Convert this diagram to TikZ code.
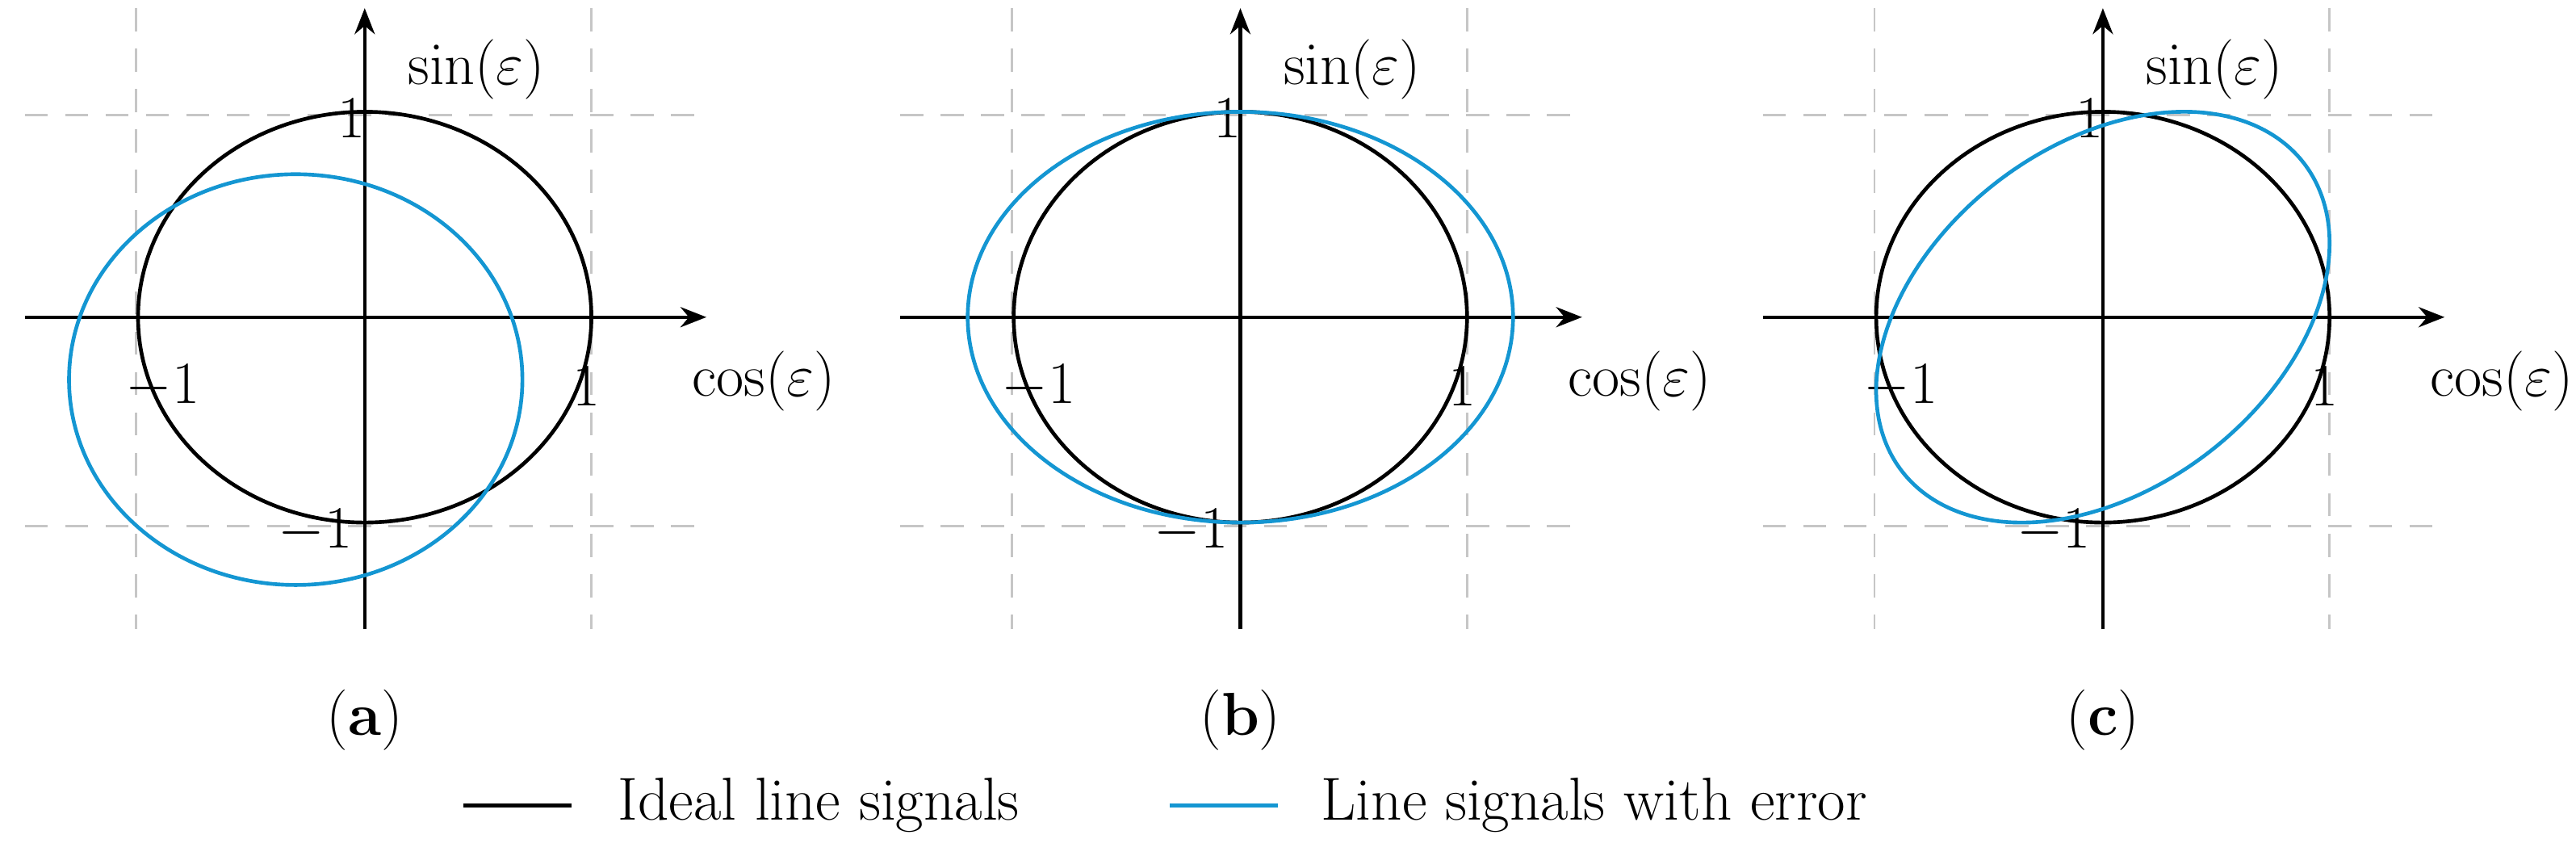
\documentclass[tikz,border=0pt]{standalone}
\usepackage{amsmath}
\usetikzlibrary{arrows.meta}
\definecolor{blu}{RGB}{20,150,210}
\tikzset{
  ax/.style={line width=1.2pt,-{Stealth[length=9pt,width=7pt]}},
  grd/.style={gray!45,dashed,line width=0.8pt,dash pattern=on 8pt off 6pt},
  blk/.style={black,line width=1.3pt},
  blc/.style={blu,line width=1.3pt},
  lbl/.style={font=\fontsize{21}{25}\selectfont},
}
\begin{document}
\begin{tikzpicture}[x=0.02cm,y=-0.02cm]
\useasboundingbox (0,0) rectangle (1568,523);
\foreach \ox/\nm in {222/a,755/b,1280/c}{
  \begin{scope}[xshift=\ox*0.02cm]
    \draw[grd] (-139,5) -- (-139,383);
    \draw[grd] (138,5) -- (138,383);
    \draw[grd] (-207,70) -- (206,70);
    \draw[grd] (-207,320) -- (206,320);
    \draw[ax] (-207,193) -- (208,193);
    \draw[ax] (0,383) -- (0,5);
    \draw[blk] (0,193) ellipse [x radius=2.76cm, y radius=2.5cm];
    \node[lbl] (sin\nm) at (68,42) {$\sin(\varepsilon)$};
    \node[lbl] (cos\nm) at (243,232) {$\cos(\varepsilon)$};
    \node[lbl] (xp\nm) at (135,235) {$1$};
    \node[lbl] (xm\nm) at (-123,235) {$-1$};
    \node[lbl] (yp\nm) at (-8,72) {$1$};
    \node[lbl] (ym\nm) at (-30,323) {$-1$};
    \node[lbl] (cap\nm) at (0,438) {(\textbf{\nm})};
  \end{scope}}
\draw[blc] (180,231) ellipse [x radius=2.76cm, y radius=2.5cm];
\draw[blc] (755,193) ellipse [x radius=3.32cm, y radius=2.5cm];
\draw[blc,smooth,samples=120,domain=0:357,variable=\t]
  plot ({1280+138*cos(\t)},{193-125*sin(\t+21)}) -- cycle;
\draw[blk] (282,490) -- (348,490);
\node[lbl,anchor=west] (l1) at (370,490) {Ideal line signals};
\draw[blc] (712,490) -- (778,490);
\node[lbl,anchor=west] (l2) at (798,490) {Line signals with error};
\end{tikzpicture}
\end{document}
